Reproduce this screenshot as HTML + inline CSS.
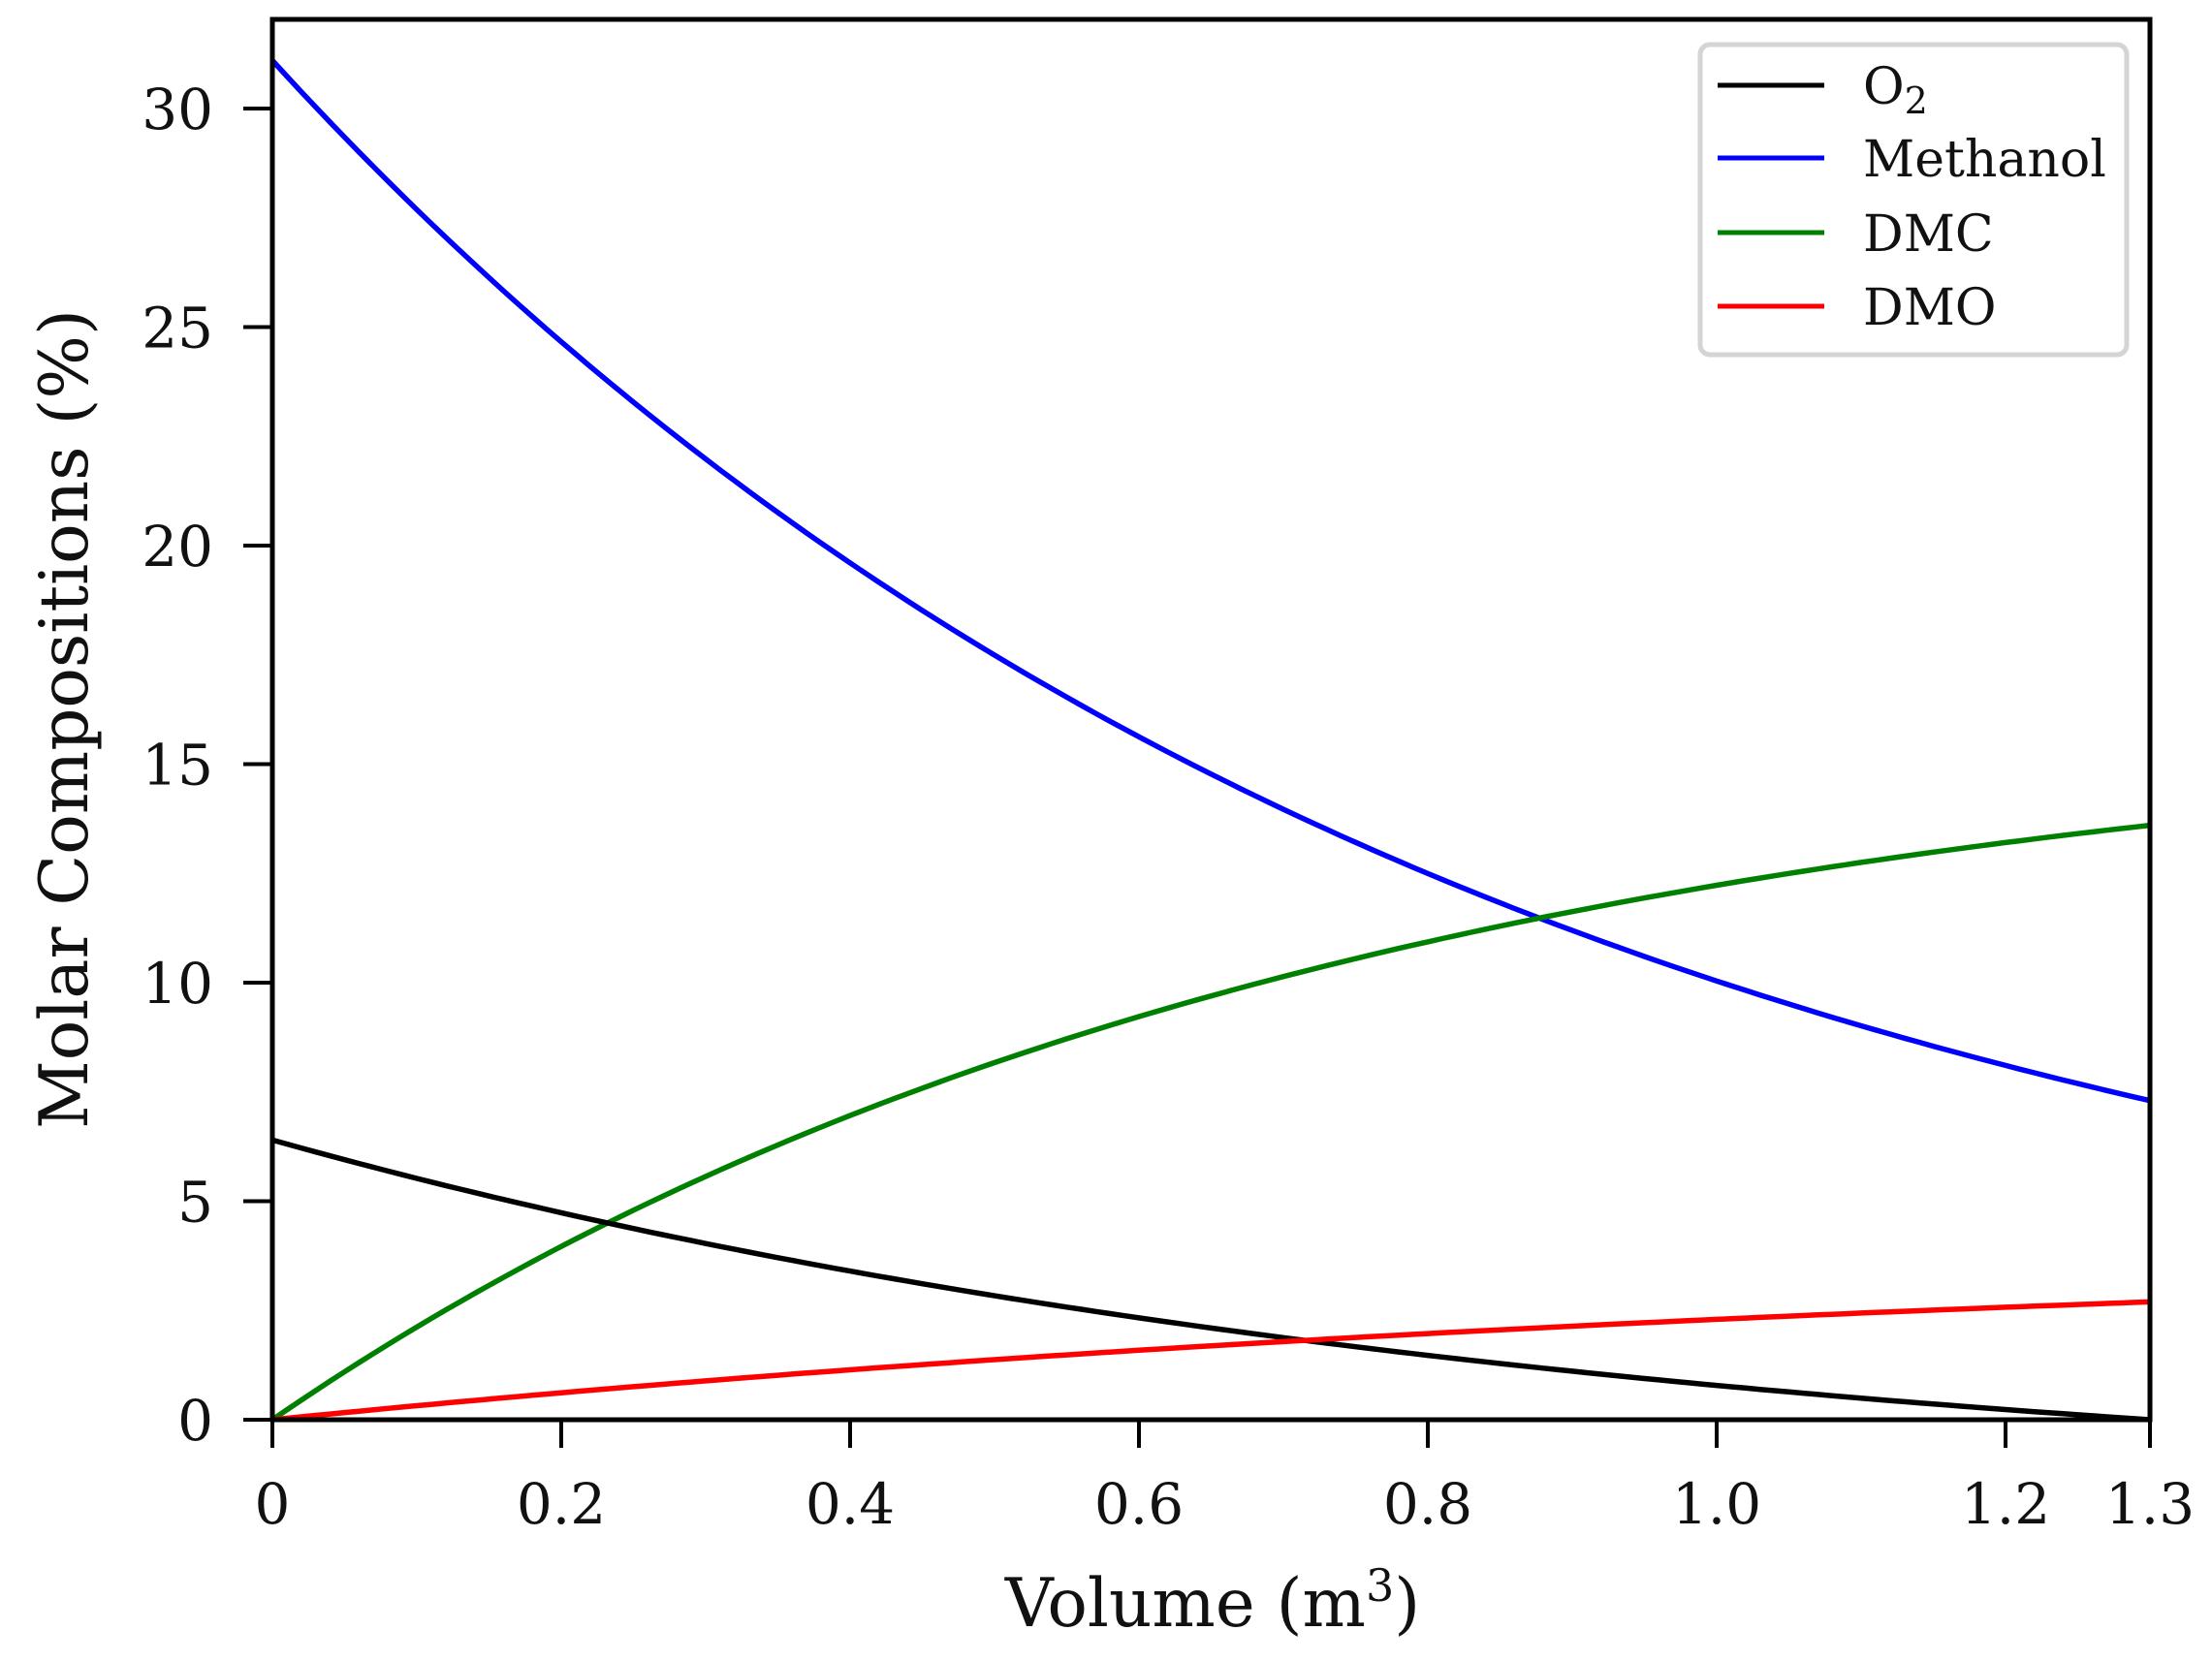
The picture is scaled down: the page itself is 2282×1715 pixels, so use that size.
<!DOCTYPE html>
<html><head><meta charset="utf-8"><style>
html,body{margin:0;padding:0;background:#fff;}
svg{display:block;}
text{font-family:"DejaVu Serif","Liberation Serif",serif;fill:#111;}
</style></head><body>
<svg id="s" width="2282" height="1715" viewBox="0 0 2282 1715" xmlns="http://www.w3.org/2000/svg">
<g id="curves" fill="none" stroke-width="5.5"></g>
<rect x="281" y="20" width="1937" height="1445" fill="none" stroke="#000" stroke-width="5"/>
<g id="ticks" stroke="#000" stroke-width="4"></g>
<g id="labels" font-size="58"></g>
<text x="1251" y="1678" font-size="69" text-anchor="middle">Volume (m<tspan dy="-26" font-size="46">3</tspan><tspan dy="26">)</tspan></text>
<text transform="translate(90,742) rotate(-90)" font-size="69" text-anchor="middle">Molar Compositions (%)</text>
<rect x="1754" y="46" width="440" height="320" rx="10" fill="#fff" stroke="#d4d4d4" stroke-width="5"/>
<g stroke-width="5">
<line x1="1772" y1="88" x2="1882" y2="88" stroke="#000"/>
<line x1="1772" y1="163" x2="1882" y2="163" stroke="#0000ff"/>
<line x1="1772" y1="240" x2="1882" y2="240" stroke="#008000"/>
<line x1="1772" y1="316" x2="1882" y2="316" stroke="#ff0000"/>
</g>
<g font-size="52">
<text x="1922" y="107">O<tspan dy="10" font-size="38">2</tspan></text>
<text x="1922" y="182">Methanol</text>
<text x="1922" y="259">DMC</text>
<text x="1922" y="335">DMO</text>
</g>
</svg>
<script>
const X0=281,XS=1490,Y0=1465,YS=45.1;
const px=x=>X0+x*XS, py=y=>Y0-y*YS;
const fns=[
 ["#0000ff",x=>30.1*Math.exp(-1.203*x)+1],
 ["#008000",x=>16.23*(1-Math.exp(-1.4*x))],
 ["#000000",x=>8.4*Math.exp(-1.104*x)-2],
 ["#ff0000",x=>4.17*(1-Math.exp(-0.8*x))]
];
let h="";
for(const [c,f] of fns){let p=[];for(let i=0;i<=130;i++){const x=i/100;p.push(px(x).toFixed(1)+","+py(Math.max(0,f(x))).toFixed(1));}
h+=`<polyline stroke="${c}" points="${p.join(" ")}"/>`;}
document.getElementById("curves").innerHTML=h;
let t="",l="";
[0,0.2,0.4,0.6,0.8,1.0,1.2,1.3].forEach(v=>{const x=px(v);t+=`<line x1="${x}" y1="1465" x2="${x}" y2="1494"/>`;
l+=`<text x="${x}" y="1572" text-anchor="middle">${v===0?"0":v.toFixed(1)}</text>`;});
[0,5,10,15,20,25,30].forEach(v=>{const y=py(v);t+=`<line x1="281" y1="${y}" x2="251" y2="${y}"/>`;
l+=`<text x="220" y="${y+21}" text-anchor="end">${v}</text>`;});
document.getElementById("ticks").innerHTML=t;
document.getElementById("labels").innerHTML=l;
</script>
</body></html>
